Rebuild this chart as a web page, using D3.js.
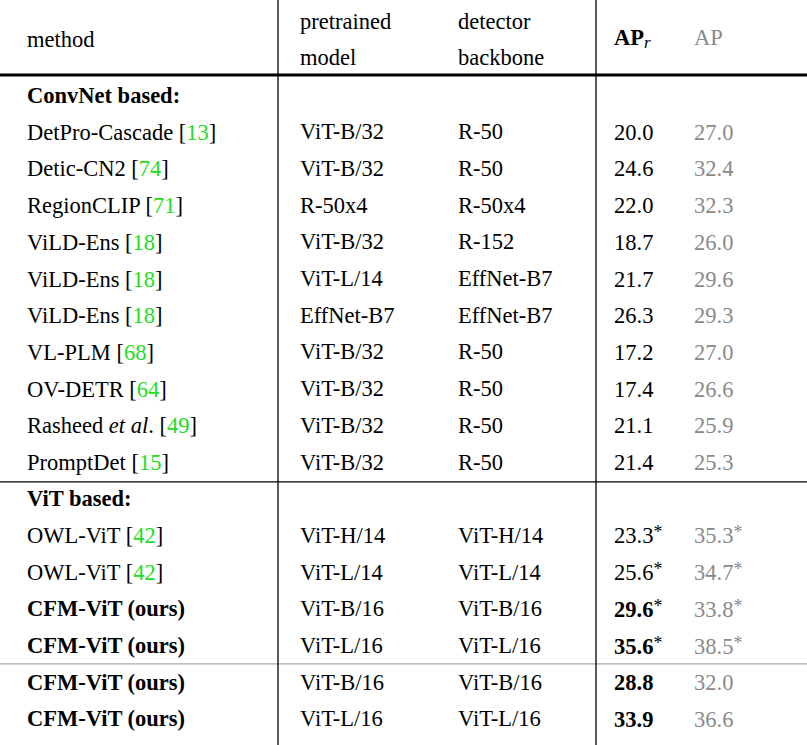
<!DOCTYPE html>
<html><head><meta charset="utf-8">
<script src="https://cdn.jsdelivr.net/npm/d3@7"></script>
<style>body{margin:0;background:#fff}svg{display:block}</style>
</head><body><div id="tbl"></div>
<script>
const methods = ['DetPro-Cascade','Detic-CN2','RegionCLIP','ViLD-Ens','ViLD-Ens','ViLD-Ens','VL-PLM','OV-DETR','Rasheed et al.','PromptDet',
  'OWL-ViT','OWL-ViT','CFM-ViT (ours)','CFM-ViT (ours)','CFM-ViT (ours)','CFM-ViT (ours)'];
const refs = ['13','74','71','18','18','18','68','64','49','15','42','42','','','',''];
const pretrained = ['ViT-B/32','ViT-B/32','R-50x4','ViT-B/32','ViT-L/14','EffNet-B7','ViT-B/32','ViT-B/32','ViT-B/32','ViT-B/32',
  'ViT-H/14','ViT-L/14','ViT-B/16','ViT-L/16','ViT-B/16','ViT-L/16'];
const backbone = ['R-50','R-50','R-50x4','R-152','EffNet-B7','EffNet-B7','R-50','R-50','R-50','R-50',
  'ViT-H/14','ViT-L/14','ViT-B/16','ViT-L/16','ViT-B/16','ViT-L/16'];
const apr = [20.0,24.6,22.0,18.7,21.7,26.3,17.2,17.4,21.1,21.4,23.3,25.6,29.6,35.6,28.8,33.9];
const ap = [27.0,32.4,32.3,26.0,29.6,29.3,27.0,26.6,25.9,25.3,35.3,34.7,33.8,38.5,32.0,36.6];
const starred = [0,0,0,0,0,0,0,0,0,0,1,1,1,1,0,0];
const ours = [0,0,0,0,0,0,0,0,0,0,0,0,1,1,1,1];
const groups = ['ConvNet based:','ViT based:'];

const W = 807, H = 745;
const svg = d3.select('#tbl').append('svg').attr('width', W).attr('height', H)
  .style('font-family', '"Liberation Serif", "DejaVu Serif", serif').style('font-size', '22.5px');

// slot index -> y (group headings take a slot too)
const y = d3.scaleLinear().domain([0, 1]).range([95, 131.7]);
const rowSlot = i => i < 10 ? i + 1 : i + 2;
const groupSlot = [0, 11];

const col = {method: 27, pre: 300, det: 458, apr: 614, ap: 694};

// rules
svg.append('line').attr('x1', 0).attr('x2', W).attr('y1', 75).attr('y2', 75).attr('stroke', '#000').attr('stroke-width', 3);
svg.append('line').attr('x1', 0).attr('x2', W).attr('y1', y(10.54)).attr('y2', y(10.54)).attr('stroke', '#000').attr('stroke-width', 1.3);
svg.append('line').attr('x1', 0).attr('x2', W).attr('y1', y(15.5)).attr('y2', y(15.5)).attr('stroke', '#aaa').attr('stroke-width', 1.3);
[278, 596].forEach(x => svg.append('line').attr('x1', x).attr('x2', x).attr('y1', 0).attr('y2', H)
  .attr('stroke', '#000').attr('stroke-width', 1.3));

// header
const hdr = svg.append('g').attr('dominant-baseline', 'central');
hdr.append('text').attr('x', col.method).attr('y', 39).text('method');
hdr.append('text').attr('x', col.pre).attr('y', 21).text('pretrained');
hdr.append('text').attr('x', col.pre).attr('y', 57).text('model');
hdr.append('text').attr('x', col.det).attr('y', 21).text('detector');
hdr.append('text').attr('x', col.det).attr('y', 57).text('backbone');
const t = hdr.append('text').attr('x', col.apr).attr('y', 37);
t.append('tspan').attr('font-weight', 'bold').text('AP');
t.append('tspan').attr('font-style', 'italic').attr('font-size', '17px').attr('dy', 5).text('r');
hdr.append('text').attr('x', col.ap).attr('y', 37).attr('fill', '#8a8a8a').text('AP');

// group headings
svg.selectAll('.grp').data(groups).join('text').attr('class', 'grp')
  .attr('x', col.method).attr('y', (d, i) => y(groupSlot[i])).attr('dominant-baseline', 'central')
  .attr('font-weight', 'bold').text(d => d);

// rows
const rows = svg.selectAll('.row').data(methods).join('g').attr('class', 'row')
  .attr('transform', (d, i) => `translate(0,${y(rowSlot(i))})`).attr('dominant-baseline', 'central');

rows.append('text').attr('x', col.method).each(function (d, i) {
  const s = d3.select(this);
  if (ours[i]) { s.attr('font-weight', 'bold').text(d); return; }
  if (d.includes('et al.')) {
    s.append('tspan').text('Rasheed ');
    s.append('tspan').attr('font-style', 'italic').text('et al');
    s.append('tspan').text('.');
  } else s.append('tspan').text(d);
  s.append('tspan').text(' [');
  s.append('tspan').attr('fill', '#22dd22').text(refs[i]);
  s.append('tspan').text(']');
});
rows.append('text').attr('x', col.pre).text((d, i) => pretrained[i]);
rows.append('text').attr('x', col.det).text((d, i) => backbone[i]);
rows.append('text').attr('x', col.apr).each(function (d, i) {
  const s = d3.select(this);
  s.append('tspan').attr('font-weight', ours[i] ? 'bold' : null).text(d3.format('.1f')(apr[i]));
  if (starred[i]) s.append('tspan').attr('dy', -3).attr('font-size', '18px').text('*');
});
rows.append('text').attr('x', col.ap).attr('fill', '#8a8a8a').each(function (d, i) {
  const s = d3.select(this);
  s.append('tspan').text(d3.format('.1f')(ap[i]));
  if (starred[i]) s.append('tspan').attr('dy', -3).attr('font-size', '18px').text('*');
});
</script></body></html>
